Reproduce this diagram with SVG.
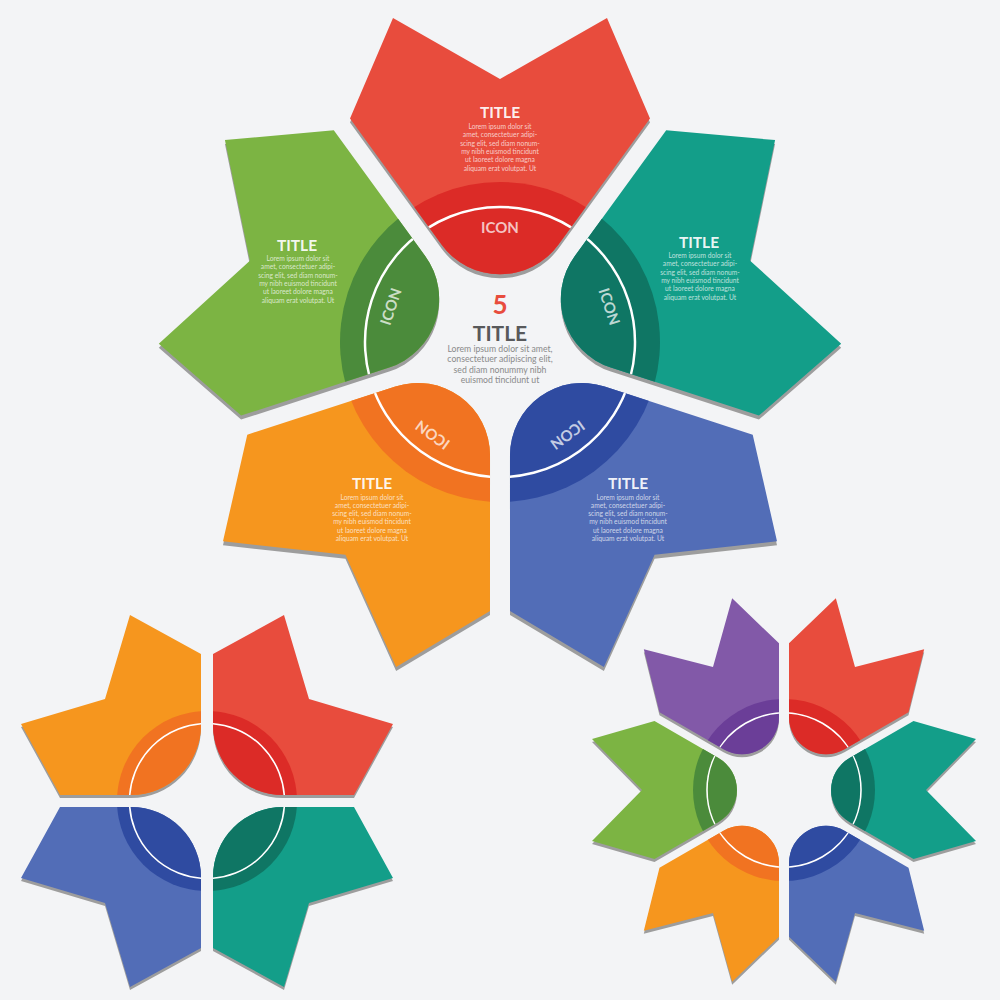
<svg xmlns="http://www.w3.org/2000/svg" width="1000" height="1000" viewBox="0 0 1000 1000">
<style>
.bg{fill:#f3f4f6}
.sh{fill:#9d9d9d}
.ring{fill:none;stroke:#fff;stroke-width:2.5}
.ring-s{fill:none;stroke:#fff;stroke-width:1.6}
.icon{font-family:Lato,"Open Sans",sans-serif;font-weight:700;font-size:15px;fill:#fff;fill-opacity:.72;text-anchor:middle}
.pt{font-family:Lato,"Open Sans",sans-serif;font-weight:700;font-size:15.5px;fill:#fff;fill-opacity:.93;text-anchor:middle}
.pl{font-family:Lato,"Open Sans",sans-serif;font-size:6.7px;fill:#fff;fill-opacity:.72;text-anchor:middle}
.c5{font-family:Lato,"Open Sans",sans-serif;font-weight:700;font-size:26px;fill:#e84c3d;text-anchor:middle}
.ct{font-family:Lato,"Open Sans",sans-serif;font-weight:700;font-size:21px;fill:#58595b;text-anchor:middle}
.cl{font-family:Lato,"Open Sans",sans-serif;font-size:8.7px;fill:#8a8a8a;text-anchor:middle}
.red{fill:#e84c3d}.red-d{fill:#dc2b27}
.teal{fill:#139e89}.teal-d{fill:#0f7664}
.blue{fill:#526db7}.blue-d{fill:#2f4ba1}
.orange{fill:#f6961e}.orange-d{fill:#f17321}
.green{fill:#7cb443}.green-d{fill:#4b8b3b}
.purple{fill:#8259a8}.purple-d{fill:#6b3e98}
</style>
<defs>
<path id="pA" d="M -58.5 -97.5 L -150 -223.5 L -107 -324 L 0 -263 L 107 -324 L 150 -223.5 L 58.5 -97.5 A 72.3 72.3 0 0 1 -58.5 -97.5 Z"/>
<clipPath id="cA"><use href="#pA"/></clipPath>
<path id="pB" d="M 6 -147 L 77 -186 L 102 -102 L 186 -77 L 147 -6 L 76 -6 A 70 70 0 0 1 6 -76 Z"/>
<clipPath id="cB"><use href="#pB"/></clipPath>
<path id="pC" d="M -32 -65.5 L -69 -129.5 L -51 -192 L 0 -142 L 51 -192 L 69 -129.5 L 32 -65.5 A 37 37 0 0 1 -32 -65.5 Z"/>
<clipPath id="cC"><use href="#pC"/></clipPath>
</defs>
<rect class="bg" x="0" y="0" width="1000" height="1000"/>

<!-- Main five-petal flower -->
<g id="main-red">
<use href="#pA" class="sh" transform="translate(500,346) rotate(0)"/>
<g transform="translate(500,342) rotate(0)">
<use href="#pA" class="red"/>
<circle r="160" class="red-d" clip-path="url(#cA)"/>
<circle r="135" class="ring" clip-path="url(#cA)"/>
<text class="icon" y="-109.5">ICON</text>
</g>
<text class="pt" x="500" y="117.5">TITLE</text>
<text class="pl" x="500" y="129"><tspan x="500">Lorem ipsum dolor sit</tspan><tspan x="500" dy="8.3">amet, consectetuer adipi-</tspan><tspan x="500" dy="8.3">scing elit, sed diam nonum-</tspan><tspan x="500" dy="8.3">my nibh euismod tincidunt</tspan><tspan x="500" dy="8.3">ut laoreet dolore magna</tspan><tspan x="500" dy="8.3">aliquam erat volutpat. Ut</tspan></text>
</g>

<g id="main-teal">
<use href="#pA" class="sh" transform="translate(500,346) rotate(72)"/>
<g transform="translate(500,342) rotate(72)">
<use href="#pA" class="teal"/>
<circle r="160" class="teal-d" clip-path="url(#cA)"/>
<circle r="135" class="ring" clip-path="url(#cA)"/>
<text class="icon" y="-109.5">ICON</text>
</g>
<text class="pt" x="699" y="247.5">TITLE</text>
<text class="pl" x="700" y="258"><tspan x="700">Lorem ipsum dolor sit</tspan><tspan x="700" dy="8.3">amet, consectetuer adipi-</tspan><tspan x="700" dy="8.3">scing elit, sed diam nonum-</tspan><tspan x="700" dy="8.3">my nibh euismod tincidunt</tspan><tspan x="700" dy="8.3">ut laoreet dolore magna</tspan><tspan x="700" dy="8.3">aliquam erat volutpat. Ut</tspan></text>
</g>

<g id="main-blue">
<use href="#pA" class="sh" transform="translate(500,346) rotate(144)"/>
<g transform="translate(500,342) rotate(144)">
<use href="#pA" class="blue"/>
<circle r="160" class="blue-d" clip-path="url(#cA)"/>
<circle r="135" class="ring" clip-path="url(#cA)"/>
<text class="icon" y="-109.5">ICON</text>
</g>
<text class="pt" x="628" y="489">TITLE</text>
<text class="pl" x="628" y="499.5"><tspan x="628">Lorem ipsum dolor sit</tspan><tspan x="628" dy="8.3">amet, consectetuer adipi-</tspan><tspan x="628" dy="8.3">scing elit, sed diam nonum-</tspan><tspan x="628" dy="8.3">my nibh euismod tincidunt</tspan><tspan x="628" dy="8.3">ut laoreet dolore magna</tspan><tspan x="628" dy="8.3">aliquam erat volutpat. Ut</tspan></text>
</g>

<g id="main-orange">
<use href="#pA" class="sh" transform="translate(500,346) rotate(216)"/>
<g transform="translate(500,342) rotate(216)">
<use href="#pA" class="orange"/>
<circle r="160" class="orange-d" clip-path="url(#cA)"/>
<circle r="135" class="ring" clip-path="url(#cA)"/>
<text class="icon" y="-109.5">ICON</text>
</g>
<text class="pt" x="372" y="489">TITLE</text>
<text class="pl" x="372" y="499.5"><tspan x="372">Lorem ipsum dolor sit</tspan><tspan x="372" dy="8.3">amet, consectetuer adipi-</tspan><tspan x="372" dy="8.3">scing elit, sed diam nonum-</tspan><tspan x="372" dy="8.3">my nibh euismod tincidunt</tspan><tspan x="372" dy="8.3">ut laoreet dolore magna</tspan><tspan x="372" dy="8.3">aliquam erat volutpat. Ut</tspan></text>
</g>

<g id="main-green">
<use href="#pA" class="sh" transform="translate(500,346) rotate(288)"/>
<g transform="translate(500,342) rotate(288)">
<use href="#pA" class="green"/>
<circle r="160" class="green-d" clip-path="url(#cA)"/>
<circle r="135" class="ring" clip-path="url(#cA)"/>
<text class="icon" y="-109.5">ICON</text>
</g>
<text class="pt" x="297" y="250.5">TITLE</text>
<text class="pl" x="298" y="261"><tspan x="298">Lorem ipsum dolor sit</tspan><tspan x="298" dy="8.3">amet, consectetuer adipi-</tspan><tspan x="298" dy="8.3">scing elit, sed diam nonum-</tspan><tspan x="298" dy="8.3">my nibh euismod tincidunt</tspan><tspan x="298" dy="8.3">ut laoreet dolore magna</tspan><tspan x="298" dy="8.3">aliquam erat volutpat. Ut</tspan></text>
</g>

<g id="main-center">
<text class="c5" x="500" y="313.5">5</text>
<text class="ct" x="500" y="341">TITLE</text>
<text class="cl" x="500" y="352"><tspan x="500">Lorem ipsum dolor sit amet,</tspan><tspan x="500" dy="10.4">consectetuer adipiscing elit,</tspan><tspan x="500" dy="10.4">sed diam nonummy nibh</tspan><tspan x="500" dy="10.4">euismod tincidunt ut</tspan></text>
</g>

<!-- Bottom-left four-petal flower -->
<g id="quad-red">
<use href="#pB" class="sh" transform="translate(207,804) rotate(0)"/>
<g transform="translate(207,801) rotate(0)">
<use href="#pB" class="red"/>
<circle r="90" class="red-d" clip-path="url(#cB)"/>
<circle r="77.5" class="ring-s" clip-path="url(#cB)"/>
</g>
</g>
<g id="quad-teal">
<use href="#pB" class="sh" transform="translate(207,804) rotate(90)"/>
<g transform="translate(207,801) rotate(90)">
<use href="#pB" class="teal"/>
<circle r="90" class="teal-d" clip-path="url(#cB)"/>
<circle r="77.5" class="ring-s" clip-path="url(#cB)"/>
</g>
</g>
<g id="quad-blue">
<use href="#pB" class="sh" transform="translate(207,804) rotate(180)"/>
<g transform="translate(207,801) rotate(180)">
<use href="#pB" class="blue"/>
<circle r="90" class="blue-d" clip-path="url(#cB)"/>
<circle r="77.5" class="ring-s" clip-path="url(#cB)"/>
</g>
</g>
<g id="quad-orange">
<use href="#pB" class="sh" transform="translate(207,804) rotate(270)"/>
<g transform="translate(207,801) rotate(270)">
<use href="#pB" class="orange"/>
<circle r="90" class="orange-d" clip-path="url(#cB)"/>
<circle r="77.5" class="ring-s" clip-path="url(#cB)"/>
</g>
</g>

<!-- Bottom-right six-petal flower -->
<g id="hex-red">
<use href="#pC" class="sh" transform="translate(784,793) rotate(30)"/>
<g transform="translate(784,790) rotate(30)">
<use href="#pC" class="red"/>
<circle r="91" class="red-d" clip-path="url(#cC)"/>
<circle r="77" class="ring-s" clip-path="url(#cC)"/>
</g>
</g>
<g id="hex-teal">
<use href="#pC" class="sh" transform="translate(784,793) rotate(90)"/>
<g transform="translate(784,790) rotate(90)">
<use href="#pC" class="teal"/>
<circle r="91" class="teal-d" clip-path="url(#cC)"/>
<circle r="77" class="ring-s" clip-path="url(#cC)"/>
</g>
</g>
<g id="hex-blue">
<use href="#pC" class="sh" transform="translate(784,793) rotate(150)"/>
<g transform="translate(784,790) rotate(150)">
<use href="#pC" class="blue"/>
<circle r="91" class="blue-d" clip-path="url(#cC)"/>
<circle r="77" class="ring-s" clip-path="url(#cC)"/>
</g>
</g>
<g id="hex-orange">
<use href="#pC" class="sh" transform="translate(784,793) rotate(210)"/>
<g transform="translate(784,790) rotate(210)">
<use href="#pC" class="orange"/>
<circle r="91" class="orange-d" clip-path="url(#cC)"/>
<circle r="77" class="ring-s" clip-path="url(#cC)"/>
</g>
</g>
<g id="hex-green">
<use href="#pC" class="sh" transform="translate(784,793) rotate(270)"/>
<g transform="translate(784,790) rotate(270)">
<use href="#pC" class="green"/>
<circle r="91" class="green-d" clip-path="url(#cC)"/>
<circle r="77" class="ring-s" clip-path="url(#cC)"/>
</g>
</g>
<g id="hex-purple">
<use href="#pC" class="sh" transform="translate(784,793) rotate(330)"/>
<g transform="translate(784,790) rotate(330)">
<use href="#pC" class="purple"/>
<circle r="91" class="purple-d" clip-path="url(#cC)"/>
<circle r="77" class="ring-s" clip-path="url(#cC)"/>
</g>
</g>
</svg>
